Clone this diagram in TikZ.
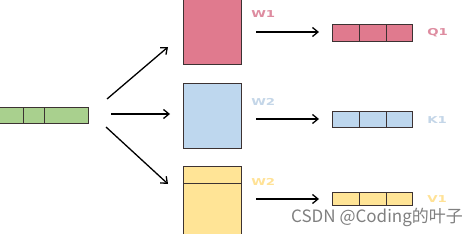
\documentclass[tikz,border=0pt]{standalone}
\usepackage{fontspec}
\setmainfont{DejaVu Sans}
\newfontfamily\cjkfont{Noto Sans CJK SC}
\usetikzlibrary{arrows.meta}
\definecolor{pinkf}{RGB}{224,122,142}
\definecolor{pinkt}{RGB}{222,140,160}
\definecolor{bluef}{RGB}{190,215,238}
\definecolor{bluet}{RGB}{196,214,232}
\definecolor{yelf}{RGB}{255,228,150}
\definecolor{yelt}{RGB}{255,226,150}
\definecolor{greenf}{RGB}{169,208,142}
\definecolor{edgec}{RGB}{60,50,50}
\tikzset{
  x=1pt,y=-1pt,
  mat/.style={draw=edgec,line width=0.9pt,minimum width=58pt,anchor=north west,inner sep=0pt,outer sep=0pt},
  vec/.style={draw=edgec,line width=0.9pt,minimum width=80pt,anchor=north west,inner sep=0pt,outer sep=0pt},
  lbl/.style={font=\bfseries\fontsize{9.5}{9.5}\selectfont,xscale=1.4,anchor=west,inner sep=0pt},
  arr/.style={line width=1.3pt,-{Straight Barb[length=5.5pt,width=9pt]}},
}
\begin{document}
\begin{tikzpicture}
\useasboundingbox (0,0) rectangle (474,233);
\clip (0,0) rectangle (474,233);
\fill[white] (0,0) rectangle (474,233);
% input
\node[vec,fill=greenf,minimum width=89pt,minimum height=16pt] (x) at (-1,107) {};
\draw[edgec,line width=0.9pt] (23,107) -- (23,123) (44,107) -- (44,123);
% weight matrices
\node[mat,fill=pinkf,minimum height=65pt] (wq) at (183,-1) {};
\node[mat,fill=bluef,minimum height=65pt] (wk) at (183,83) {};
\node[mat,fill=yelf,minimum height=70pt] (wv) at (183,166) {};
\draw[edgec,line width=0.9pt] (183,183) -- (241,183);
\node[lbl,text=pinkt] (lw1) at (251,14) {W1};
\node[lbl,text=bluet] (lw2) at (251,102) {W2};
\node[lbl,text=yelt] (lw3) at (251,182) {W2};
% outputs
\node[vec,fill=pinkf,minimum height=17pt] (q) at (332,24) {};
\draw[edgec,line width=0.9pt] (359,24) -- (359,41) (386,24) -- (386,41);
\node[vec,fill=bluef,minimum height=16pt] (k) at (332,111) {};
\draw[edgec,line width=0.9pt] (359,111) -- (359,127) (386,111) -- (386,127);
\node[vec,fill=yelf,minimum height=13pt] (v) at (332,192) {};
\draw[edgec,line width=0.9pt] (359,192) -- (359,205) (386,192) -- (386,205);
\node[lbl,text=pinkt] (lq) at (427,33) {Q1};
\node[lbl,text=bluet] (lk) at (427,120) {K1};
\node[lbl,text=yelt] (lv) at (427,199) {V1};
% arrows
\coordinate (a1) at (107,99); \coordinate (b1) at (168,47);
\coordinate (a2) at (111,114); \coordinate (b2) at (170,114);
\coordinate (a3) at (106,127); \coordinate (b3) at (168,184);
\draw[arr] (a1) -- (b1);
\draw[arr] (a2) -- (b2);
\draw[arr] (a3) -- (b3);
\coordinate (c1) at (256,32); \coordinate (d1) at (319,32);
\coordinate (c2) at (256,119); \coordinate (d2) at (319,119);
\coordinate (c3) at (256,199); \coordinate (d3) at (319,199);
\draw[arr] (c1) -- (d1);
\draw[arr] (c2) -- (d2);
\draw[arr] (c3) -- (d3);
% watermark
\node[anchor=base west,inner sep=0pt,text=black!50,font=\cjkfont\fontsize{17}{17}\selectfont] (wm) at (291,222) {CSDN @Coding的叶子};
\end{tikzpicture}
\end{document}
